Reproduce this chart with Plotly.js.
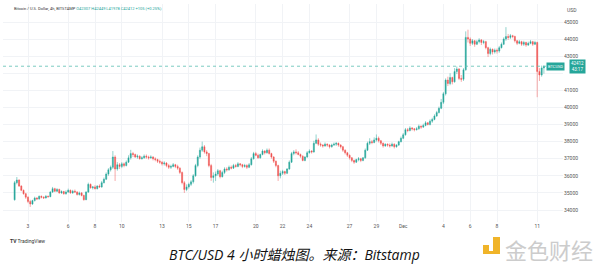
<!DOCTYPE html>
<html>
<head>
<meta charset="utf-8">
<script src="https://cdn.plot.ly/plotly-3.0.1.min.js"></script>
<style>html,body{margin:0;padding:0;background:#fff;}#chart{width:600px;height:268px;}</style>
</head>
<body>
<div id="chart"></div>
<script>
// BTC/USD 4h candles, Bitstamp, 2 Nov 2023 00:00 -> 11 Dec 2023 12:00
const startTime = '2023-11-02T00:00:00Z';
const stepHours = 4;

const openP = [
 34600,35600,35750,35400,35150,34950, 34750,34500,34350,34550,34700,34650,
 34800,34750,34700,34800,34780,35050, 35250,35100,35200,35000,35080,34950,
 35050,35150,35000,35100,35050,34900, 35000,34850,34600,35050,35500,35300,
 35350,35250,35400,35350,35600,35800, 36100,36350,36500,37100,36400,36650,
 36550,36700,36600,36800,37050,37300, 37250,37100,37150,37000,37050,37150,
 37100,37050,37100,37000,36950,36850, 36800,36700,36750,36600,36500,36550,
 36650,36550,36450,36200,35600,35200, 35350,35500,35650,36000,36600,37100,
 37500,37700,37400,37300,36600,35900, 36000,36100,36300,35950,36200,36400,
 36350,36500,36450,36600,36550,36700, 36650,36550,36600,36500,36650,37000,
 37300,37200,37050,37250,37450,37350, 37500,37300,37100,36850,36600,36000,
 36150,36250,36150,36400,36800,37300, 37400,37350,37250,37150,36900,37100,
 37350,37450,37400,37900,38100,37850, 37800,37750,37850,37800,37700,37800,
 37850,37900,37800,37700,37500,37350, 37200,37050,36900,36800,36950,37000,
 36900,37050,37500,37900,38000,37950, 38100,38200,38050,37900,37750,37850,
 37800,37750,37850,37700,37800,38000, 38200,38400,38700,38650,38800,38750,
 38700,38750,38900,38850,38950,39100, 39000,39200,39300,39500,39700,39950,
 40300,40800,41600,41400,41750,41500, 42100,42250,41700,41650,42200,44100,
 44000,43750,43900,43700,43850,43950, 43800,43850,43500,43150,43400,43250,
 43350,43300,43500,43700,44000,44150, 44100,44200,44150,43900,43750,43850,
 43700,43800,43650,43750,43850,43700, 43800,42100,41900,42307
];
const highP = [
 35700,35930,35800,35450,35200,35000, 34800,34600,34600,34780,34750,34850,
 34850,34800,34880,34850,35100,35350, 35300,35280,35250,35150,35120,35150,
 35250,35200,35180,35200,35100,35080, 35050,34900,35100,35600,35550,35400,
 35450,35450,35500,35700,35900,36200, 36450,36600,37450,37200,36800,36750,
 36800,36780,36900,37200,37520,37400, 37300,37250,37200,37150,37250,37250,
 37180,37200,37150,37080,37000,36950, 36850,36850,36800,36700,36650,36750,
 36700,36650,36500,36250,35700,35500, 35600,35750,36100,36700,37200,37650,
 38000,37800,37500,37350,36700,36200, 36250,36400,36350,36300,36500,36500,
 36600,36600,36700,36700,36800,36750, 36700,36700,36680,36750,37100,37400,
 37400,37300,37300,37550,37500,37600, 37600,37350,37150,36900,36650,36300,
 36350,36300,36450,36900,37400,37500, 37550,37450,37300,37200,37150,37450,
 37550,37500,38050,38420,38200,37950, 37850,37950,37900,37850,37880,37950,
 37980,37950,37850,37750,37550,37400, 37250,37100,36950,37000,37100,37050,
 37100,37600,38000,38200,38100,38250, 38420,38300,38100,37950,37900,37900,
 37900,37950,37900,37850,38050,38300, 38500,38800,38800,38900,38850,38800,
 38850,39000,38950,39050,39200,39150, 39300,39400,39600,39800,40050,40500,
 40900,41700,41800,42000,41800,42300, 42400,42300,41900,42300,44450,44550,
 44100,44000,43950,43950,44050,44000, 43950,43900,43550,43500,43450,43450,
 43450,43600,43800,44100,44700,44300, 44300,44250,44200,43950,43950,43900,
 43900,43850,43850,43950,43900,43900, 43850,42300,42450,42449
];
const lowP = [
 34550,35500,35350,35100,34900,34650, 34400,34180,34300,34500,34580,34600,
 34680,34650,34680,34720,34750,35000, 35050,35050,34950,34950,34900,34900,
 35000,34950,34950,35000,34850,34850, 34800,34550,34580,35000,35250,35200,
 35200,35200,35300,35300,35550,35750, 36000,36250,36400,35700,36300,36400,
 36450,36500,36550,36750,36950,37100, 37050,37000,36950,36950,37000,37000,
 36950,37000,36900,36850,36750,36700, 36600,36600,36500,36400,36400,36500,
 36450,36350,36100,35500,35000,35100, 35250,35400,35550,35950,36500,37000,
 37400,37300,37150,36500,35700,35600, 35700,36000,35850,35900,36100,36250,
 36300,36380,36400,36480,36500,36550, 36450,36480,36400,36450,36600,36950,
 37150,37000,37000,37200,37250,37300, 37250,37000,36750,36500,35700,35850,
 36050,36050,36100,36350,36750,37200, 37250,37200,37050,36850,36850,37050,
 37300,37300,37350,37850,37750,37700, 37650,37700,37700,37600,37650,37750,
 37750,37700,37600,37400,37250,37100, 36950,36800,36700,36750,36850,36800,
 36850,37000,37450,37800,37850,37900, 38000,37950,37800,37650,37700,37700,
 37650,37700,37600,37650,37750,37950, 38150,38350,38550,38600,38650,38600,
 38650,38700,38750,38800,38900,38950, 38950,39100,39250,39450,39650,39900,
 40200,40700,41250,41300,41350,41450, 41950,41600,41500,41550,42150,43800,
 43600,43650,43550,43650,43750,43650, 43700,43400,42950,43050,43100,43150,
 43150,43200,43450,43650,43900,43950, 44000,44050,43800,43650,43700,43600,
 43600,43550,43600,43700,43600,43650, 40600,41550,41800,41978
];
const closeP = [
 35600,35750,35400,35150,34950,34750, 34500,34350,34550,34700,34650,34800,
 34750,34700,34800,34780,35050,35250, 35100,35200,35000,35080,34950,35050,
 35150,35000,35100,35050,34900,35000, 34850,34600,35050,35500,35300,35350,
 35250,35400,35350,35600,35800,36100, 36350,36500,37100,36400,36650,36550,
 36700,36600,36800,37050,37300,37250, 37100,37150,37000,37050,37150,37100,
 37050,37100,37000,36950,36850,36800, 36700,36750,36600,36500,36550,36650,
 36550,36450,36200,35600,35200,35350, 35500,35650,36000,36600,37100,37500,
 37700,37400,37300,36600,35900,36000, 36100,36300,35950,36200,36400,36350,
 36500,36450,36600,36550,36700,36650, 36550,36600,36500,36650,37000,37300,
 37200,37050,37250,37450,37350,37500, 37300,37100,36850,36600,36000,36150,
 36250,36150,36400,36800,37300,37400, 37350,37250,37150,36900,37100,37350,
 37450,37400,37900,38100,37850,37800, 37750,37850,37800,37700,37800,37850,
 37900,37800,37700,37500,37350,37200, 37050,36900,36800,36950,37000,36900,
 37050,37500,37900,38000,37950,38100, 38200,38050,37900,37750,37850,37800,
 37750,37850,37700,37800,38000,38200, 38400,38700,38650,38800,38750,38700,
 38750,38900,38850,38950,39100,39000, 39200,39300,39500,39700,39950,40300,
 40800,41600,41400,41750,41500,42100, 42250,41700,41650,42200,44100,44000,
 43750,43900,43700,43850,43950,43800, 43850,43500,43150,43400,43250,43350,
 43300,43500,43700,44000,44150,44100, 44200,44150,43900,43750,43850,43700,
 43800,43650,43750,43850,43700,43800, 42100,41900,42307,42412
];

const tickDates = ['2023-11-03','2023-11-06','2023-11-08','2023-11-10','2023-11-13','2023-11-15','2023-11-17',
  '2023-11-20','2023-11-22','2023-11-24','2023-11-27','2023-11-29','2023-12-01','2023-12-04','2023-12-06',
  '2023-12-08','2023-12-11'];
const tickLabels = ['3','6','8','10','13','15','17','20','22','24','27','29','Dec','4','6','8','11'];
const priceTicks = [34000,35000,36000,37000,38000,39000,40000,41000,42000,43000,44000,45000];
// 42000 is hidden behind the last-price label in the reference
const priceLabels = ['34000','35000','36000','37000','38000','39000','40000','41000','','43000','44000','45000'];
const lastPrice = 42412;
const headerText = 'Bitcoin / U.S. Dollar, 4h, BITSTAMP';
const ohlcText = 'O42307 H42449 L41978 C42412 +105 (+0.25%)';
const caption = 'BTC/USD 4 小时蜡烛图。来源：Bitstamp';

// time axis positions
const t0 = Date.parse(startTime);
const times = closeP.map((_, i) => new Date(t0 + i * stepHours * 3600e3).toISOString().slice(0,16).replace('T',' '));

const M = {l:3, r:37, t:4, b:46};
const W = 600, H = 268;
const PW = W - M.l - M.r, PH = H - M.t - M.b;
const px = x => (x - M.l) / PW;
const py = y => (H - M.b - y) / PH;

const green = '#26a69a', red = '#ef5350';

const trace = {
  type: 'candlestick',
  x: times, open: openP, high: highP, low: lowP, close: closeP,
  increasing: {line: {color: green, width: 0.5}, fillcolor: green},
  decreasing: {line: {color: red, width: 0.5}, fillcolor: red},
  whiskerwidth: 0,
  hoverinfo: 'skip',
  showlegend: false
};

const layout = {
  width: W, height: H,
  margin: M,
  paper_bgcolor: '#ffffff', plot_bgcolor: '#ffffff',
  font: {family: 'Roboto, "Noto Sans", sans-serif', color: '#555'},
  showlegend: false,
  xaxis: {
    type: 'date',
    range: ['2023-11-01 03:13', '2023-12-12 22:12'],
    rangeslider: {visible: false},
    tickvals: tickDates, ticktext: tickLabels,
    tickfont: {size: 5, color: '#555'},
    showgrid: true, gridcolor: '#f1f3f6', gridwidth: 1,
    zeroline: false, showline: false, ticks: '', ticklen: 0
  },
  yaxis: {
    side: 'right',
    range: [33298, 46053],
    tickvals: priceTicks, ticktext: priceLabels,
    tickfont: {size: 5, color: '#555'},
    showgrid: true, gridcolor: '#f1f3f6', gridwidth: 1,
    zeroline: false, showline: false, ticks: '', ticklen: 0
  },
  shapes: [
    {type: 'line', xref: 'paper', yref: 'y', x0: 0, x1: 1, y0: lastPrice, y1: lastPrice,
     line: {color: '#5cbfb3', width: 0.8, dash: 'dot'}},
    // logo mark (gold)
    {type: 'rect', xref: 'paper', yref: 'paper', x0: px(483), x1: px(489), y0: py(251), y1: py(245),
     fillcolor: '#f0b429', line: {width: 0}},
    {type: 'rect', xref: 'paper', yref: 'paper', x0: px(493), x1: px(500), y0: py(254), y1: py(237),
     fillcolor: '#f0b429', line: {width: 0}},
    {type: 'rect', xref: 'paper', yref: 'paper', x0: px(483), x1: px(500), y0: py(254), y1: py(251),
     fillcolor: '#f0b429', line: {width: 0}}
  ],
  annotations: [
    {xref: 'paper', yref: 'paper', x: px(12), y: py(9), xanchor: 'left', yanchor: 'middle', showarrow: false,
     text: headerText + ' <span style="color:' + green + '">' + ohlcText + '</span>',
     font: {size: 4, color: '#333'}},
    {xref: 'paper', yref: 'paper', x: px(572), y: py(10), xanchor: 'center', yanchor: 'middle', showarrow: false,
     text: 'USD', font: {size: 5, color: '#555'}},
    {xref: 'paper', yref: 'y', x: px(555), y: lastPrice, xanchor: 'center', yanchor: 'middle', showarrow: false,
     text: 'BTCUSD', font: {size: 4, color: '#fff'}, bgcolor: green, borderpad: 1},
    {xref: 'paper', yref: 'y', x: px(577), y: lastPrice, xanchor: 'center', yanchor: 'middle', showarrow: false,
     text: lastPrice + '<br>43:17', font: {size: 4.5, color: '#fff'}, bgcolor: green, borderpad: 1},
    {xref: 'paper', yref: 'paper', x: px(8), y: py(241), xanchor: 'left', yanchor: 'middle', showarrow: false,
     text: '<b>TV</b> TradingView', font: {size: 5, color: '#333'}},
    {xref: 'paper', yref: 'paper', x: px(294), y: py(254), xanchor: 'center', yanchor: 'middle', showarrow: false,
     text: '<i>' + caption + '</i>',
     font: {size: 14, color: '#111', family: '"Open Sans", "Noto Sans CJK SC", sans-serif'}},
    {xref: 'paper', yref: 'paper', x: px(549), y: py(249), xanchor: 'center', yanchor: 'middle', showarrow: false,
     text: '金色财经', font: {size: 22, color: '#cccccc', family: '"Noto Sans CJK SC", sans-serif'}}
  ]
};

Plotly.newPlot('chart', [trace], layout, {staticPlot: true, displayModeBar: false});
</script>
</body>
</html>
